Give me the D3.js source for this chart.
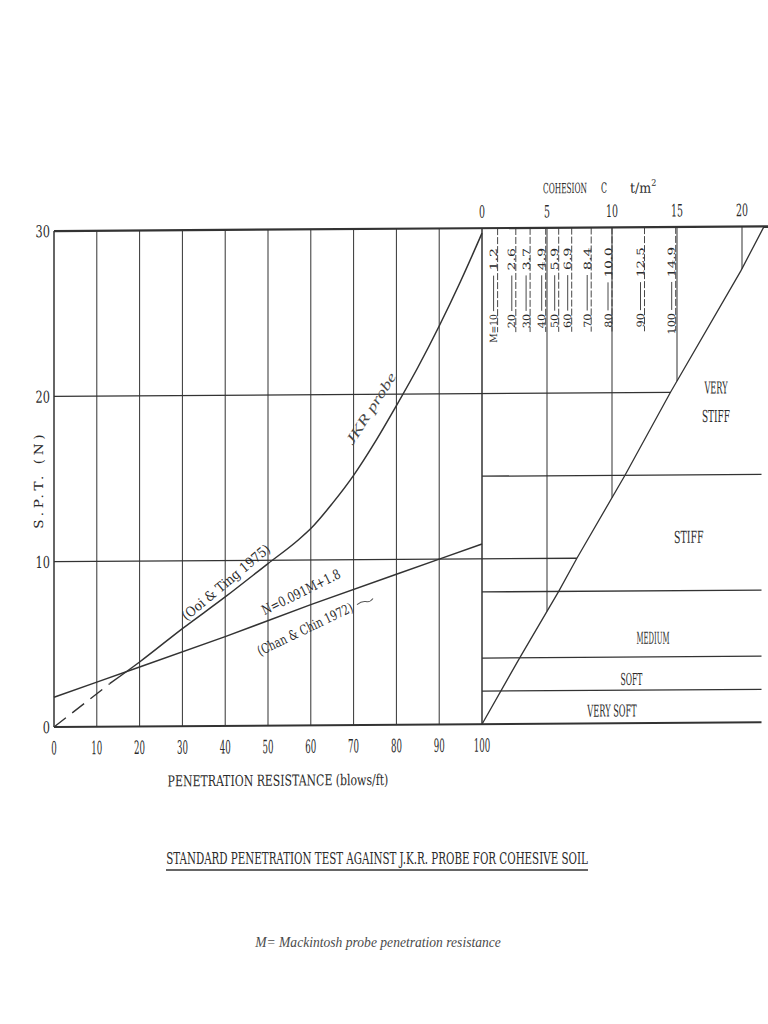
<!DOCTYPE html>
<html>
<head>
<meta charset="utf-8">
<script src="https://cdn.jsdelivr.net/npm/d3@7"></script>
<style>
  body { margin: 0; background: #fff; }
  svg text { font-family: "DejaVu Serif Condensed", "DejaVu Serif", serif; font-stretch: condensed; fill: #2b2b2b; }
  .hand { font-family: "Liberation Serif", "DejaVu Serif", serif; font-style: italic; font-stretch: normal; fill: #4a4a4a; }
</style>
</head>
<body>
<script>
// axis ticks
const penetrationTicks = [0, 10, 20, 30, 40, 50, 60, 70, 80, 90, 100];
const sptTicks = [0, 10, 20, 30];
const cohesionTicks = [0, 5, 10, 15, 20];

// [M (blows/ft), N]
const chanChin = [[0, 1.8], [10, 2.7], [20, 3.6], [40, 5.4], [60, 7.3], [80, 9.1], [90, 10.0], [100, 10.9]];
const ooiTingDashed = [[0, 0], [13, 2.6]];
const ooiTingJkr = [[13, 2.6], [20, 3.9], [30, 5.9], [40, 7.8], [50, 9.8], [57, 11.2], [60, 11.9],
  [65, 13.4], [70, 15.1], [75, 17.1], [80, 19.3], [85, 21.6], [90, 24.1], [95, 26.8], [100, 29.7]];

// [C (t/m2), N] cohesion line
const cohesionLine = [[0, 0], [2.9, 4], [5.9, 8], [7.3, 10], [11, 15], [14.5, 20], [19.9, 27.3], [21.7, 30]];

// Mackintosh probe M against cohesion C
const probeM = [10, 20, 30, 40, 50, 60, 70, 80, 90, 100];
const probeC = [1.2, 2.6, 3.7, 4.9, 5.9, 6.9, 8.4, 10.0, 12.5, 14.9];

// consistency bands (N upper bounds)
const soilBounds = [2, 4, 8, 15];
const soilNames = ["VERY SOFT", "SOFT", "MEDIUM", "STIFF", "VERY STIFF"];

const W = 768, H = 1024;
const ink = "#333";

const svg = d3.select("body").append("svg").attr("width", W).attr("height", H);

const x = d3.scaleLinear().domain([0, 100]).range([54, 482]);
const y = d3.scaleLinear().domain([0, 30]).range([727.4, 231.4]);
const xc = d3.scaleLinear().domain([0, 20]).range([482, 742]);

// C where the cohesion line crosses a given N, and the reverse
const cAtN = d3.scaleLinear().domain(cohesionLine.map(d => d[1])).range(cohesionLine.map(d => d[0]));
const nAtC = d3.scaleLinear().domain(cohesionLine.map(d => d[0])).range(cohesionLine.map(d => d[1]));

// the scan is a touch tilted
const g = svg.append("g").attr("transform", "skewY(-0.38)");

// typewriter lettering is tall and narrow: squeeze each text to the width it has on the sheet
function txt(sel, str, px, py, o = {}) {
  const t = sel.append("text")
    .attr("x", 0).attr("y", 0)
    .attr("font-size", o.fs || 16)
    .attr("text-anchor", o.anchor || "middle")
    .attr("dominant-baseline", "central")
    .text(str);
  if (o.cls) t.attr("class", o.cls);
  if (o.ls) t.attr("letter-spacing", o.ls);
  let k = 1;
  const target = o.len || (o.cw ? str.length * o.cw : 0);
  if (target) k = target / t.node().getComputedTextLength();
  t.attr("transform", `translate(${px},${py}) rotate(${o.rot || 0}) scale(${k.toFixed(3)},1)`);
  return t;
}

function hline(n, x0, x1, w) {
  g.append("line").attr("x1", x0).attr("x2", x1).attr("y1", y(n)).attr("y2", y(n))
    .attr("stroke", ink).attr("stroke-width", w);
}
function vline(px, n0, n1, w, dash) {
  g.append("line").attr("x1", px).attr("x2", px).attr("y1", y(n0)).attr("y2", y(n1))
    .attr("stroke", ink).attr("stroke-width", w).attr("stroke-dasharray", dash || null);
}

// ---- left grid
penetrationTicks.slice(1, -1).forEach(m => vline(x(m), 0, 30, 1));
vline(x(0), 0, 30, 1.5);
vline(x(100), 0, 30, 1.5);

hline(0, x(0), xc(21.5), 2);
hline(30, x(0), W, 2.2);
[10, 20].forEach(n => hline(n, x(0), xc(cAtN(n)), 1.3));

// ---- right panel
soilBounds.forEach(n => hline(n, xc(0), xc(21.5), 1.3));
cohesionTicks.slice(1).forEach(c => vline(xc(c), 30, nAtC(c), 1));

probeC.forEach((c, i) => {
  const px = xc(c);
  vline(px, 30, 23.7, 0.9, "7,2");
  const tx = px - 4;
  const cStr = c.toFixed(1);
  txt(g, cStr, tx, y(30) + 20, { fs: 10, cw: 7.5, anchor: "end", rot: -90 });
  txt(g, (i === 0 ? "M=" : "") + probeM[i], tx, y(30) + 86, { fs: 10, cw: 7.2, anchor: "end", rot: -90 });
  const dashTop = y(30) + 22 + cStr.length * 7.5 + 3;
  g.append("line").attr("x1", tx).attr("x2", tx).attr("y1", dashTop).attr("y2", y(30) + 83)
    .attr("stroke", ink).attr("stroke-width", 0.9);
});

const lineC = d3.line().x(d => xc(d[0])).y(d => y(d[1]));
g.append("path").datum(cohesionLine).attr("d", lineC)
  .attr("fill", "none").attr("stroke", ink).attr("stroke-width", 1.3);

// ---- correlation curves
const lineM = d3.line().x(d => x(d[0])).y(d => y(d[1]));
g.append("path").datum(chanChin).attr("d", lineM)
  .attr("fill", "none").attr("stroke", ink).attr("stroke-width", 1.5);
g.append("path").datum(ooiTingDashed).attr("d", lineM)
  .attr("fill", "none").attr("stroke", ink).attr("stroke-width", 1.4).attr("stroke-dasharray", "15,8");
g.append("path").datum(ooiTingJkr).attr("d", d3.line().x(d => x(d[0])).y(d => y(d[1])).curve(d3.curveMonotoneX))
  .attr("fill", "none").attr("stroke", ink).attr("stroke-width", 1.5);

// ---- curve labels
txt(g, "(Ooi & Ting 1975)", 226, 584, { fs: 13.5, len: 110, rot: -39.5 });
txt(g, "N=0.091M+1.8", 301, 594, { fs: 13.5, len: 86, rot: -26 });
txt(g, "(Chan & Chin 1972)", 305, 631, { fs: 13.5, len: 104, rot: -25.3 });
g.append("path").attr("d", "M357,607 q5,-4 9,-3 t7,-3")
  .attr("fill", "none").attr("stroke", "#555").attr("stroke-width", 1);
txt(g, "JKR probe", 371, 411, { fs: 14, len: 82, rot: -57.5, cls: "hand" });

// ---- tick labels
penetrationTicks.forEach(m => txt(g, String(m), x(m), 748, { fs: 18.5, cw: 5.5 }));
sptTicks.forEach(n => txt(g, String(n), 50, y(n), { fs: 16.5, cw: 7.2, anchor: "end" }));
cohesionTicks.forEach(c => txt(g, String(c), xc(c), 215, { fs: 17, cw: 6 }));

// ---- soil consistency labels
const labelAt = [[10, 0.75], [11.5, 2.65], [13.15, 5.15], [15.9, 11.25], [18, 19.4]];
soilNames.forEach((s, i) => {
  const [c, n] = labelAt[i];
  if (s === "VERY STIFF") {
    txt(g, "VERY", xc(c), y(n) - 14, { fs: 16.5, cw: 5.8 });
    txt(g, "STIFF", xc(c), y(n) + 14, { fs: 16.5, cw: 5.6 });
  } else {
    txt(g, s, xc(c), y(n), { fs: 16.5, cw: s === "STIFF" ? 5.9 : 5.5 });
  }
});

// ---- axis titles
txt(g, "S.P.T. (N)", 38, 480, { fs: 12.5, len: 98, ls: 3, rot: -90 });
txt(g, "PENETRATION RESISTANCE  (blows/ft)", 278, 782, { fs: 15, len: 221 });
txt(g, "COHESION", 565, 192, { fs: 14, cw: 5.5 });
txt(g, "C", 604, 192, { fs: 14, cw: 6 });
const unit = txt(g, "t/m", 630, 192, { fs: 14, anchor: "start" });
unit.append("tspan").attr("font-size", 9).attr("dy", -5).text("2");

// ---- title and note
txt(svg, "STANDARD PENETRATION TEST AGAINST J.K.R. PROBE FOR COHESIVE SOIL", 377, 857, { fs: 17.5, len: 422 });
svg.append("line").attr("x1", 166).attr("x2", 588).attr("y1", 870).attr("y2", 870)
  .attr("stroke", ink).attr("stroke-width", 1.6);
txt(svg, "M= Mackintosh probe penetration resistance", 378, 942, { fs: 15, len: 246, cls: "hand" });
</script>
</body>
</html>
